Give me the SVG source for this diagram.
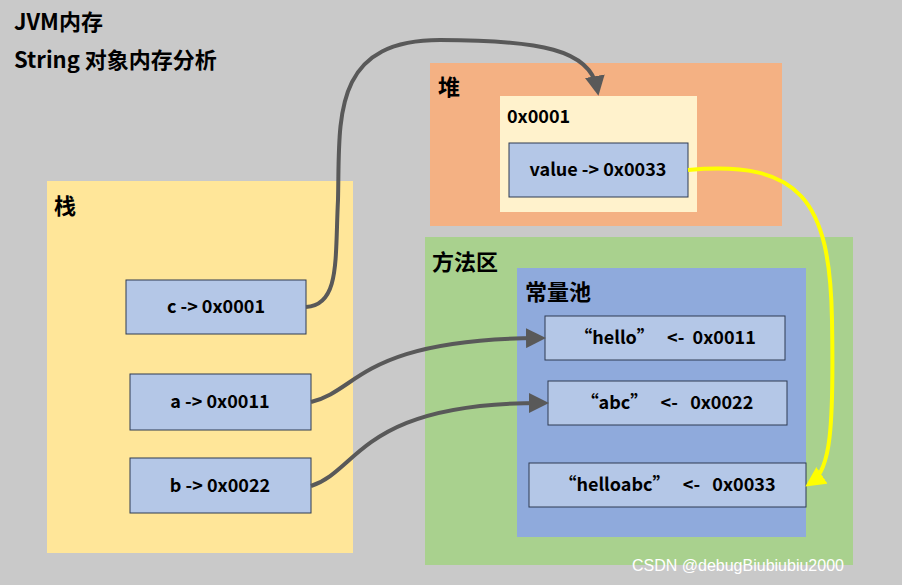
<svg xmlns="http://www.w3.org/2000/svg" width="902" height="585" viewBox="0 0 902 585">
<defs>
<marker id="ag" markerWidth="5" markerHeight="5" refX="3" refY="2.5" orient="auto" markerUnits="strokeWidth"><path d="M0,0 L5,2.5 L0,5 Z" fill="#595959"/></marker>
<marker id="ay" markerWidth="5" markerHeight="5" refX="3" refY="2.5" orient="auto" markerUnits="strokeWidth"><path d="M0,0 L5,2.5 L0,5 Z" fill="#ffff00"/></marker>
</defs>
<style>
text{font-family:"Noto Sans CJK SC","Liberation Sans",sans-serif;font-weight:bold;fill:#000}
.t{font-size:22px}
.n{font-size:18px;text-anchor:middle}
.box{fill:#b4c7e7;stroke:#2f3b52;stroke-width:1}
.c{fill:none;stroke:#595959;stroke-width:4}
</style>
<rect width="902" height="585" fill="#c9c9c9"/>
<text x="14" y="30" class="t">JVM内存</text>
<text x="14" y="68" class="t">String 对象内存分析</text>
<g id="stack"><rect x="47" y="181" width="306" height="372" fill="#ffe699"/><text x="54" y="214" class="t">栈</text></g>
<g id="heap"><rect x="430" y="63" width="352" height="163" fill="#f4b183"/><text x="438" y="95" class="t">堆</text></g>
<g id="obj"><rect x="500" y="96" width="197" height="116" fill="#fff2cc"/><text x="507" y="123" style="font-size:18px">0x0001</text></g>
<g id="value"><rect x="509" y="143" width="179" height="54" class="box"/><text x="598" y="176" class="n">value -&gt; 0x0033</text></g>
<g id="method"><rect x="425" y="237" width="428" height="328" fill="#a9d18e"/><text x="432" y="270" class="t">方法区</text></g>
<g id="pool"><rect x="517" y="268" width="289" height="269" fill="#8faadc"/><text x="525" y="300" class="t">常量池</text></g>
<g id="c"><rect x="126" y="280" width="180" height="54" class="box"/><text x="216" y="313" class="n">c -&gt; 0x0001</text></g>
<g id="a"><rect x="130" y="374" width="181" height="56" class="box"/><text x="220" y="408" class="n">a -&gt; 0x0011</text></g>
<g id="b"><rect x="130" y="458" width="181" height="55" class="box"/><text x="220" y="492" class="n">b -&gt; 0x0022</text></g>
<g id="hello"><rect x="545" y="316" width="240" height="44" class="box"/><text x="665" y="344" class="n" xml:space="preserve">“hello”   &lt;-  0x0011</text></g>
<g id="abc"><rect x="548" y="381" width="239" height="44" class="box"/><text x="667" y="409" class="n" xml:space="preserve">“abc”   &lt;-   0x0022</text></g>
<g id="helloabc"><rect x="529" y="463" width="277" height="44" class="box"/><text x="667" y="491" class="n" xml:space="preserve">“helloabc”   &lt;-   0x0033</text></g>
<g id="connectors">
<path class="c" d="M306,307 C340,305 335,260 338,200 C340,120 330,40 440,40 C540,40 590,50 597,88" marker-end="url(#ag)"/>
<path class="c" d="M311,402 C360,390 360,340 538,338" marker-end="url(#ag)"/>
<path class="c" d="M311,486 C360,470 360,403 541,403" marker-end="url(#ag)"/>
<path d="M688,170 C800,160 830,200 832,320 C834,430 830,470 812,482" fill="none" stroke="#ffff00" stroke-width="4" marker-end="url(#ay)"/>
</g>
<text x="632" y="571" style="font-family:'Liberation Sans',sans-serif;font-weight:normal;font-size:16px;fill:#ffffff">CSDN @debugBiubiubiu2000</text>
</svg>
